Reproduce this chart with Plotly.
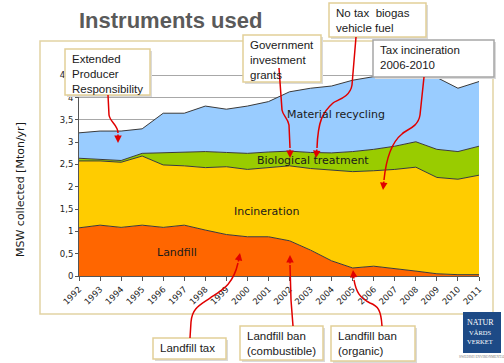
import plotly.graph_objects as go

years = list(range(1992, 2012))
landfill = [1.08, 1.14, 1.09, 1.14, 1.09, 1.14, 1.03, 0.93, 0.88, 0.88,
            0.79, 0.58, 0.34, 0.18, 0.22, 0.17, 0.11, 0.05, 0.03, 0.03]
incineration = [1.50, 1.44, 1.46, 1.55, 1.40, 1.33, 1.40, 1.52, 1.51, 1.55,
                1.68, 1.83, 2.04, 2.16, 2.14, 2.22, 2.33, 2.16, 2.14, 2.23]
biological = [0.06, 0.04, 0.04, 0.06, 0.27, 0.30, 0.36, 0.32, 0.36, 0.35,
              0.33, 0.36, 0.38, 0.45, 0.48, 0.52, 0.57, 0.63, 0.62, 0.65]
recycling = [0.57, 0.63, 0.66, 0.55, 0.89, 0.88, 1.02, 0.97, 1.06, 1.13,
             1.33, 1.44, 1.50, 1.60, 1.63, 1.59, 1.54, 1.61, 1.42, 1.45]
series_names = ["Landfill", "Incineration", "Biological treatment", "Material recycling"]
series_colors = ["#FF6600", "#FFCC00", "#99CC00", "#99CCFF"]

W, H = 504, 363
L, R, T, B = 79, 479, 53, 276


def px(x, y):
    return ((x - L) / (R - L), (B - y) / (B - T))


def path(cmds):
    s = ""
    for c in cmds:
        s += c[0] + " " + " ".join("%.4f,%.4f" % px(*p) for p in c[1:]) + " "
    return s.strip()


fig = go.Figure()
for vals, name, col in zip([landfill, incineration, biological, recycling], series_names, series_colors):
    fig.add_trace(go.Scatter(x=years, y=vals, name=name, stackgroup="one",
                             mode="lines", line=dict(color="#3a3a3a", width=1),
                             fillcolor=col, hoverinfo="skip"))

shapes = []
annotations = []

# outer frame
x0, y0 = px(40, 41); x1, y1 = px(493, 314)
shapes.append(dict(type="rect", xref="paper", yref="paper", x0=x0, y0=y0, x1=x1, y1=y1,
                   line=dict(color="#E2D3A4", width=1.5), fillcolor="rgba(0,0,0,0)", layer="below"))

RED = "#E00000"
TAN = "#E2CF98"

boxes = [
    ("Extended<br>Producer<br>Responsibility", (65, 49, 150, 95), TAN),
    ("Government<br>investment<br>grants", (243, 35, 321, 82), TAN),
    ("No tax  biogas<br>vehicle fuel", (329, 3, 426, 37), TAN),
    ("Tax incineration<br>2006-2010", (373, 40, 494, 77), "#A6A6A6"),
    ("Landfill tax", (153, 338, 226, 359), TAN),
    ("Landfill ban<br>(combustible)", (240, 326, 323, 360), TAN),
    ("Landfill ban<br>(organic)", (331, 326, 415, 361), TAN),
]
for text, (bx0, by0, bx1, by1), bc in boxes:
    a0, b0 = px(bx0 + 2, by0 + 2); a1, b1 = px(bx1 + 2, by1 + 2)
    shapes.append(dict(type="rect", xref="paper", yref="paper", x0=a0, y0=b0, x1=a1, y1=b1,
                       line=dict(width=0), fillcolor="#DADADA", layer="above"))
    a0, b0 = px(bx0, by0); a1, b1 = px(bx1, by1)
    shapes.append(dict(type="rect", xref="paper", yref="paper", x0=a0, y0=b0, x1=a1, y1=b1,
                       line=dict(color=bc, width=1.5), fillcolor="white", layer="above"))
    tx, ty = px(bx0 + 5, by0 + 2)
    annotations.append(dict(text=text, xref="paper", yref="paper", x=tx, y=ty,
                            xanchor="left", yanchor="top", align="left", showarrow=False,
                            font=dict(family="Liberation Sans, Arial", size=11.5, color="#1a1a1a")))

# red curved arrows
arrows = [
    ([("M", (108, 95)), ("L", (109, 115)), ("C", (110, 122), (118, 125), (118, 133))], (118, 133), (118, 143)),
    ([("M", (279, 68)), ("L", (282, 110)), ("C", (283, 116), (288, 118), (289, 125)), ("L", (290, 148))], (290, 148), (290, 158)),
    ([("M", (356, 37)), ("L", (352, 85)), ("C", (350, 98), (336, 100), (333, 103)),
      ("C", (323, 112), (318, 120), (317, 148))], (317, 148), (316, 158)),
    ([("M", (424, 77)), ("L", (420, 115)), ("C", (418, 128), (405, 130), (402, 134)),
      ("C", (392, 142), (386, 160), (384, 180))], (384, 180), (383, 190)),
    ([("M", (190, 338)), ("L", (191, 322)), ("C", (192, 308), (200, 305), (210, 298)),
      ("C", (222, 290), (233, 285), (238, 263))], (238, 263), (240, 253)),
    ([("M", (293, 326)), ("L", (291, 300)), ("L", (290, 265))], (290, 265), (290, 255)),
    ([("M", (382, 326)), ("C", (381, 310), (378, 306), (370, 303)),
      ("C", (360, 298), (356, 292), (354, 280))], (354, 280), (353, 270)),
]
for cmds, frm, tip in arrows:
    shapes.append(dict(type="path", xref="paper", yref="paper", path=path(cmds),
                       line=dict(color=RED, width=1.5), layer="above"))
    tx, ty = px(*tip)
    annotations.append(dict(text="", xref="paper", yref="paper", x=tx, y=ty,
                            ax=frm[0] - tip[0], ay=frm[1] - tip[1], showarrow=True,
                            arrowhead=2, arrowsize=1, arrowwidth=1.5, arrowcolor=RED, standoff=0))

# in-chart labels
inner = [("Material recycling", 336, 114), ("Biological treatment", 313, 160),
         ("Incineration", 266, 211), ("Landfill", 177, 252)]
for text, x, y in inner:
    ax_, ay_ = px(x, y)
    annotations.append(dict(text=text, xref="paper", yref="paper", x=ax_, y=ay_,
                            xanchor="center", yanchor="middle", showarrow=False,
                            font=dict(family="DejaVu Sans", size=11, color="#1a1a1a")))

# title
tx, ty = px(77, 20)
annotations.append(dict(text="<b>Instruments used</b>", xref="paper", yref="paper", x=tx, y=ty,
                        xanchor="left", yanchor="middle", showarrow=False,
                        font=dict(family="Liberation Sans, Arial", size=22, color="#5A5A5A")))

# y-axis title
tx, ty = px(20, 190)
annotations.append(dict(text="MSW collected [Mton/yr]", xref="paper", yref="paper", x=tx, y=ty,
                        xanchor="center", yanchor="middle", textangle=-90, showarrow=False,
                        font=dict(family="DejaVu Sans", size=11, color="#1a1a1a")))

# logo
a0, b0 = px(463, 312); a1, b1 = px(501, 353)
shapes.append(dict(type="rect", xref="paper", yref="paper", x0=a0, y0=b0, x1=a1, y1=b1,
                   line=dict(width=0), fillcolor="#1D4A86", layer="above"))
for t, yy, sz in [("NATUR", 322, 8), ("VÅRDS", 332, 6.5), ("VERKET", 341, 6.5)]:
    tx, ty = px(480, yy)
    annotations.append(dict(text=t, xref="paper", yref="paper", x=tx, y=ty, xanchor="center",
                            yanchor="middle", showarrow=False,
                            font=dict(family="Liberation Serif", size=sz, color="white")))
tx, ty = px(482, 357)
annotations.append(dict(text="SWEDISH ENVIRONMENTAL", xref="paper", yref="paper", x=tx, y=ty,
                        xanchor="center", yanchor="middle", showarrow=False,
                        font=dict(family="Liberation Serif", size=3.5, color="#777")))

fig.update_layout(
    width=W, height=H,
    margin=dict(l=L, r=W - R, t=T, b=H - B, pad=0),
    paper_bgcolor="white", plot_bgcolor="white",
    showlegend=False,
    separators=", ",
    xaxis=dict(range=[1992, 2011], tickmode="array", tickvals=years,
               ticktext=[str(y) for y in years], tickangle=-45,
               ticks="outside", ticklen=4, tickcolor="#555", showgrid=False,
               showline=True, linecolor="#555", linewidth=1, zeroline=False,
               tickfont=dict(family="DejaVu Sans", size=8.5, color="#222")),
    yaxis=dict(range=[0, 5], dtick=0.5, ticks="outside", ticklen=3, tickcolor="#555",
               showgrid=True, gridcolor="#A8A8A8", gridwidth=1,
               showline=True, linecolor="#555", linewidth=1, zeroline=False,
               tickfont=dict(family="DejaVu Sans", size=8.5, color="#222")),
    shapes=shapes, annotations=annotations,
)
fig.write_html("out.html", config={"displayModeBar": False},
               post_script="document.body.style.margin='0px';document.body.style.overflow='hidden';")
